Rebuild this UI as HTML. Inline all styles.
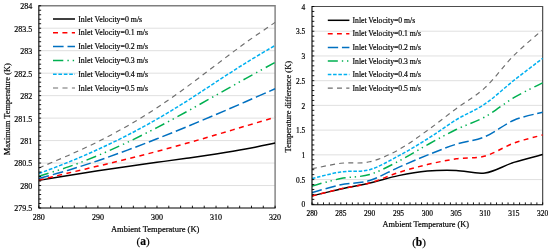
<!DOCTYPE html>
<html><head><meta charset="utf-8"><title>Figure</title>
<style>
html,body{margin:0;padding:0;background:#fff;}
svg{display:block;}
text{font-family:"Liberation Serif",serif;fill:#000;stroke:#000;stroke-width:0.18px;}
.tka{font-size:8.0px;}
.tkb{font-size:7.4px;}
.xta{font-size:8.5px;}
.xtb{font-size:8.3px;}
.yta{font-size:8.3px;}
.ytb{font-size:8.35px;}
.lga{font-size:7.85px;}
.lgb{font-size:7.7px;}
.cap{font-size:11px;}
.capb{font-size:11.5px;font-weight:bold;}
</style></head>
<body>
<svg width="550" height="251" viewBox="0 0 550 251">
<rect width="550" height="251" fill="#fff"/>
<line x1="38.85" x2="275.10" y1="185.53" y2="185.53" stroke="#dcdcdc" stroke-width="0.9"/>
<line x1="38.85" x2="275.10" y1="163.06" y2="163.06" stroke="#dcdcdc" stroke-width="0.9"/>
<line x1="38.85" x2="275.10" y1="140.58" y2="140.58" stroke="#dcdcdc" stroke-width="0.9"/>
<line x1="38.85" x2="275.10" y1="118.11" y2="118.11" stroke="#dcdcdc" stroke-width="0.9"/>
<line x1="38.85" x2="275.10" y1="95.64" y2="95.64" stroke="#dcdcdc" stroke-width="0.9"/>
<line x1="38.85" x2="275.10" y1="73.17" y2="73.17" stroke="#dcdcdc" stroke-width="0.9"/>
<line x1="38.85" x2="275.10" y1="50.69" y2="50.69" stroke="#dcdcdc" stroke-width="0.9"/>
<line x1="38.85" x2="275.10" y1="28.22" y2="28.22" stroke="#dcdcdc" stroke-width="0.9"/>
<path d="M38.85,5.75 H275.10 V208.00" fill="none" stroke="#7f7f7f" stroke-width="1.4"/>
<clipPath id="clipa"><rect x="38.85" y="5.75" width="236.75000000000003" height="202.25"/></clipPath>
<g clip-path="url(#clipa)" fill="none" stroke-linecap="butt" stroke-linejoin="round">
<path d="M38.85,180.38 C43.77,179.56 58.54,177.03 68.38,175.43 C78.23,173.83 88.07,172.29 97.91,170.79 C107.76,169.30 117.60,167.87 127.44,166.46 C137.29,165.05 147.13,163.71 156.98,162.34 C166.82,160.97 176.66,159.65 186.51,158.24 C196.35,156.83 206.19,155.44 216.04,153.90 C225.88,152.35 235.73,150.78 245.57,148.96 C255.41,147.15 270.18,144.00 275.10,143.01" stroke="#000000" stroke-width="1.5"/>
<path d="M38.85,180.09 C43.77,178.91 58.54,175.36 68.38,173.03 C78.23,170.70 88.07,168.45 97.91,166.10 C107.76,163.76 117.60,161.41 127.44,158.96 C137.29,156.51 147.13,154.00 156.98,151.40 C166.82,148.80 176.66,146.10 186.51,143.34 C196.35,140.58 206.19,137.71 216.04,134.83 C225.88,131.94 235.73,128.96 245.57,126.04 C255.41,123.11 270.18,118.73 275.10,117.26" stroke="#ff0000" stroke-width="1.5" stroke-dasharray="5.00 4.40"/>
<path d="M38.85,178.46 C43.77,177.08 58.54,173.16 68.38,170.19 C78.23,167.22 88.07,164.01 97.91,160.67 C107.76,157.32 117.60,153.78 127.44,150.13 C137.29,146.49 147.13,142.68 156.98,138.80 C166.82,134.92 176.66,130.92 186.51,126.86 C196.35,122.80 206.19,118.64 216.04,114.45 C225.88,110.27 235.73,106.00 245.57,101.72 C255.41,97.44 270.18,90.92 275.10,88.76" stroke="#0070c0" stroke-width="1.5" stroke-dasharray="10.60 3.90"/>
<path d="M38.85,176.19 C43.77,174.64 58.54,170.31 68.38,166.86 C78.23,163.41 88.07,159.58 97.91,155.49 C107.76,151.40 117.60,146.95 127.44,142.30 C137.29,137.65 147.13,132.68 156.98,127.59 C166.82,122.49 176.66,117.14 186.51,111.74 C196.35,106.35 206.19,100.76 216.04,95.23 C225.88,89.70 235.73,84.05 245.57,78.58 C255.41,73.11 270.18,65.10 275.10,62.41" stroke="#00b050" stroke-width="1.5" stroke-dasharray="10.30 4.10 1.40 3.90 1.40 4.10"/>
<path d="M38.85,173.57 C43.77,171.68 58.54,166.24 68.38,162.21 C78.23,158.19 88.07,153.94 97.91,149.44 C107.76,144.93 117.60,140.24 127.44,135.19 C137.29,130.15 147.13,124.80 156.98,119.15 C166.82,113.50 176.66,107.48 186.51,101.29 C196.35,95.09 206.19,88.36 216.04,81.99 C225.88,75.62 235.73,69.15 245.57,63.06 C255.41,56.96 270.18,48.35 275.10,45.41" stroke="#00b0f0" stroke-width="1.5" stroke-dasharray="3.65 1.75"/>
<path d="M38.85,167.91 C43.77,165.83 58.54,159.78 68.38,155.41 C78.23,151.04 88.07,146.62 97.91,141.70 C107.76,136.78 117.60,131.56 127.44,125.90 C137.29,120.24 147.13,114.22 156.98,107.75 C166.82,101.28 176.66,94.23 186.51,87.08 C196.35,79.94 206.19,72.28 216.04,64.89 C225.88,57.50 235.73,49.84 245.57,42.76 C255.41,35.67 270.18,25.79 275.10,22.40" stroke="#6e6e6e" stroke-width="1.15" stroke-dasharray="5.10 4.35"/>
</g>
<path d="M38.85,5.25 V208.00 H275.60" fill="none" stroke="#000" stroke-width="1.1"/>
<path d="M38.85,208.00 h2.3 M38.85,203.51 h2.3 M38.85,199.01 h2.3 M38.85,194.52 h2.3 M38.85,190.02 h2.3 M38.85,185.53 h2.3 M38.85,181.03 h2.3 M38.85,176.54 h2.3 M38.85,172.04 h2.3 M38.85,167.55 h2.3 M38.85,163.06 h2.3 M38.85,158.56 h2.3 M38.85,154.07 h2.3 M38.85,149.57 h2.3 M38.85,145.08 h2.3 M38.85,140.58 h2.3 M38.85,136.09 h2.3 M38.85,131.59 h2.3 M38.85,127.10 h2.3 M38.85,122.61 h2.3 M38.85,118.11 h2.3 M38.85,113.62 h2.3 M38.85,109.12 h2.3 M38.85,104.63 h2.3 M38.85,100.13 h2.3 M38.85,95.64 h2.3 M38.85,91.14 h2.3 M38.85,86.65 h2.3 M38.85,82.16 h2.3 M38.85,77.66 h2.3 M38.85,73.17 h2.3 M38.85,68.67 h2.3 M38.85,64.18 h2.3 M38.85,59.68 h2.3 M38.85,55.19 h2.3 M38.85,50.69 h2.3 M38.85,46.20 h2.3 M38.85,41.71 h2.3 M38.85,37.21 h2.3 M38.85,32.72 h2.3 M38.85,28.22 h2.3 M38.85,23.73 h2.3 M38.85,19.23 h2.3 M38.85,14.74 h2.3 M38.85,10.24 h2.3 M38.85,5.75 h2.3 M38.85,208.00 v-2.3 M50.66,208.00 v-2.3 M62.48,208.00 v-2.3 M74.29,208.00 v-2.3 M86.10,208.00 v-2.3 M97.91,208.00 v-2.3 M109.72,208.00 v-2.3 M121.54,208.00 v-2.3 M133.35,208.00 v-2.3 M145.16,208.00 v-2.3 M156.98,208.00 v-2.3 M168.79,208.00 v-2.3 M180.60,208.00 v-2.3 M192.41,208.00 v-2.3 M204.22,208.00 v-2.3 M216.04,208.00 v-2.3 M227.85,208.00 v-2.3 M239.66,208.00 v-2.3 M251.48,208.00 v-2.3 M263.29,208.00 v-2.3 M275.10,208.00 v-2.3" stroke="#000" stroke-width="0.9" fill="none"/>
<text x="32.35" y="211.40" text-anchor="end" class="tka">279.5</text>
<text x="32.35" y="188.93" text-anchor="end" class="tka">280</text>
<text x="32.35" y="166.46" text-anchor="end" class="tka">280.5</text>
<text x="32.35" y="143.98" text-anchor="end" class="tka">281</text>
<text x="32.35" y="121.51" text-anchor="end" class="tka">281.5</text>
<text x="32.35" y="99.04" text-anchor="end" class="tka">282</text>
<text x="32.35" y="76.57" text-anchor="end" class="tka">282.5</text>
<text x="32.35" y="54.09" text-anchor="end" class="tka">283</text>
<text x="32.35" y="31.62" text-anchor="end" class="tka">283.5</text>
<text x="32.35" y="9.15" text-anchor="end" class="tka">284</text>
<text x="38.85" y="219.90" text-anchor="middle" class="tka">280</text>
<text x="97.91" y="219.90" text-anchor="middle" class="tka">290</text>
<text x="156.98" y="219.90" text-anchor="middle" class="tka">300</text>
<text x="216.04" y="219.90" text-anchor="middle" class="tka">310</text>
<text x="275.10" y="219.90" text-anchor="middle" class="tka">320</text>
<text x="155.20" y="231.60" text-anchor="middle" class="xta">Ambient Temperature (K)</text>
<text transform="translate(9.5,109.30) rotate(-90)" text-anchor="middle" class="yta">Maximum Temperature (K)</text>
<text x="143.00" y="245.20" text-anchor="middle" class="cap">(<tspan class="capb">a</tspan>)</text>
<line x1="53.0" x2="75.0" y1="19.00" y2="19.00" stroke="#000000" stroke-width="1.5"/>
<text x="78.2" y="21.60" class="lga">Inlet Velocity=0 m/s</text>
<line x1="53.0" x2="75.0" y1="32.80" y2="32.80" stroke="#ff0000" stroke-width="1.5" stroke-dasharray="5.00 4.40"/>
<text x="78.2" y="35.40" class="lga">Inlet Velocity=0.1 m/s</text>
<line x1="53.0" x2="75.0" y1="46.60" y2="46.60" stroke="#0070c0" stroke-width="1.5" stroke-dasharray="10.60 3.90"/>
<text x="78.2" y="49.20" class="lga">Inlet Velocity=0.2 m/s</text>
<line x1="53.0" x2="75.0" y1="60.40" y2="60.40" stroke="#00b050" stroke-width="1.5" stroke-dasharray="10.30 4.10 1.40 3.90 1.40 4.10"/>
<text x="78.2" y="63.00" class="lga">Inlet Velocity=0.3 m/s</text>
<line x1="53.0" x2="75.0" y1="74.20" y2="74.20" stroke="#00b0f0" stroke-width="1.5" stroke-dasharray="3.65 1.75"/>
<text x="78.2" y="76.80" class="lga">Inlet Velocity=0.4 m/s</text>
<line x1="53.0" x2="75.0" y1="88.00" y2="88.00" stroke="#6e6e6e" stroke-width="1.15" stroke-dasharray="5.10 4.35"/>
<text x="78.2" y="90.60" class="lga">Inlet Velocity=0.5 m/s</text>
<line x1="312.00" x2="542.65" y1="179.58" y2="179.58" stroke="#dcdcdc" stroke-width="0.9"/>
<line x1="312.00" x2="542.65" y1="154.85" y2="154.85" stroke="#dcdcdc" stroke-width="0.9"/>
<line x1="312.00" x2="542.65" y1="130.12" y2="130.12" stroke="#dcdcdc" stroke-width="0.9"/>
<line x1="312.00" x2="542.65" y1="105.40" y2="105.40" stroke="#dcdcdc" stroke-width="0.9"/>
<line x1="312.00" x2="542.65" y1="80.68" y2="80.68" stroke="#dcdcdc" stroke-width="0.9"/>
<line x1="312.00" x2="542.65" y1="55.95" y2="55.95" stroke="#dcdcdc" stroke-width="0.9"/>
<line x1="312.00" x2="542.65" y1="31.22" y2="31.22" stroke="#dcdcdc" stroke-width="0.9"/>
<path d="M312.00,6.50 H542.65 V204.30" fill="none" stroke="#4d4d4d" stroke-width="1.2"/>
<clipPath id="clipb"><rect x="312.0" y="6.5" width="231.14999999999998" height="197.8"/></clipPath>
<g clip-path="url(#clipb)" fill="none" stroke-linecap="butt" stroke-linejoin="round">
<path d="M312.00,195.89 C316.81,194.74 331.22,191.11 340.83,188.95 C350.44,186.80 360.05,185.19 369.66,182.97 C379.27,180.74 388.88,177.59 398.49,175.61 C408.10,173.63 417.71,171.95 427.32,171.09 C436.94,170.23 446.55,170.10 456.16,170.43 C465.77,170.75 475.38,174.37 484.99,173.02 C494.60,171.68 504.21,165.43 513.82,162.36 C523.43,159.28 537.84,155.86 542.65,154.57" stroke="#000000" stroke-width="1.5"/>
<path d="M312.00,196.08 C316.81,194.88 331.22,191.04 340.83,188.87 C350.44,186.70 360.05,185.78 369.66,183.07 C379.27,180.35 388.88,175.64 398.49,172.56 C408.10,169.47 417.71,166.85 427.32,164.57 C436.94,162.28 446.55,160.26 456.16,158.84 C465.77,157.42 475.38,158.68 484.99,156.06 C494.60,153.44 504.21,146.65 513.82,143.13 C523.43,139.61 537.84,136.32 542.65,134.96" stroke="#ff0000" stroke-width="1.5" stroke-dasharray="4.88 4.29"/>
<path d="M312.00,192.53 C316.81,191.24 331.22,186.80 340.83,184.79 C350.44,182.78 360.05,183.39 369.66,180.48 C379.27,177.58 388.88,171.57 398.49,167.35 C408.10,163.13 417.71,159.02 427.32,155.17 C436.94,151.32 446.55,147.32 456.16,144.23 C465.77,141.15 475.38,140.68 484.99,136.68 C494.60,132.68 504.21,124.32 513.82,120.25 C523.43,116.18 537.84,113.60 542.65,112.27" stroke="#0070c0" stroke-width="1.5" stroke-dasharray="10.33 3.80"/>
<path d="M312.00,185.93 C316.81,184.70 331.22,180.47 340.83,178.56 C350.44,176.65 360.05,177.34 369.66,174.46 C379.27,171.58 388.88,166.22 398.49,161.28 C408.10,156.34 417.71,150.12 427.32,144.82 C436.94,139.53 446.55,134.17 456.16,129.51 C465.77,124.86 475.38,122.22 484.99,116.91 C494.60,111.61 504.21,103.37 513.82,97.68 C523.43,92.00 537.84,85.29 542.65,82.81" stroke="#00b050" stroke-width="1.5" stroke-dasharray="10.04 4.00 1.36 3.80 1.36 4.00"/>
<path d="M312.00,178.52 C316.81,177.43 331.22,173.45 340.83,171.98 C350.44,170.50 360.05,172.34 369.66,169.66 C379.27,166.99 388.88,161.04 398.49,155.93 C408.10,150.83 417.71,145.03 427.32,139.01 C436.94,132.99 446.55,125.67 456.16,119.82 C465.77,113.98 475.38,110.51 484.99,103.95 C494.60,97.38 504.21,88.04 513.82,80.44 C523.43,72.84 537.84,62.03 542.65,58.35" stroke="#00b0f0" stroke-width="1.5" stroke-dasharray="3.56 1.71"/>
<path d="M312.00,168.83 C316.81,167.90 331.22,164.46 340.83,163.29 C350.44,162.12 360.05,164.05 369.66,161.80 C379.27,159.56 388.88,155.03 398.49,149.81 C408.10,144.59 417.71,137.34 427.32,130.48 C436.94,123.63 446.55,115.82 456.16,108.69 C465.77,101.56 475.38,96.57 484.99,87.70 C494.60,78.83 504.21,65.13 513.82,55.48 C523.43,45.82 537.84,34.06 542.65,29.78" stroke="#6e6e6e" stroke-width="1.15" stroke-dasharray="4.97 4.24"/>
</g>
<path d="M312.00,6.00 V204.70 H543.15" fill="none" stroke="#000" stroke-width="1.1"/>
<path d="M312.00,204.30 h2.3 M312.00,199.36 h2.3 M312.00,194.41 h2.3 M312.00,189.47 h2.3 M312.00,184.52 h2.3 M312.00,179.58 h2.3 M312.00,174.63 h2.3 M312.00,169.69 h2.3 M312.00,164.74 h2.3 M312.00,159.80 h2.3 M312.00,154.85 h2.3 M312.00,149.91 h2.3 M312.00,144.96 h2.3 M312.00,140.01 h2.3 M312.00,135.07 h2.3 M312.00,130.12 h2.3 M312.00,125.18 h2.3 M312.00,120.23 h2.3 M312.00,115.29 h2.3 M312.00,110.34 h2.3 M312.00,105.40 h2.3 M312.00,100.45 h2.3 M312.00,95.51 h2.3 M312.00,90.56 h2.3 M312.00,85.62 h2.3 M312.00,80.68 h2.3 M312.00,75.73 h2.3 M312.00,70.78 h2.3 M312.00,65.84 h2.3 M312.00,60.89 h2.3 M312.00,55.95 h2.3 M312.00,51.00 h2.3 M312.00,46.06 h2.3 M312.00,41.11 h2.3 M312.00,36.17 h2.3 M312.00,31.22 h2.3 M312.00,26.28 h2.3 M312.00,21.33 h2.3 M312.00,16.39 h2.3 M312.00,11.44 h2.3 M312.00,6.50 h2.3 M312.00,204.70 v-2.3 M317.77,204.70 v-2.3 M323.53,204.70 v-2.3 M329.30,204.70 v-2.3 M335.06,204.70 v-2.3 M340.83,204.70 v-2.3 M346.60,204.70 v-2.3 M352.36,204.70 v-2.3 M358.13,204.70 v-2.3 M363.90,204.70 v-2.3 M369.66,204.70 v-2.3 M375.43,204.70 v-2.3 M381.19,204.70 v-2.3 M386.96,204.70 v-2.3 M392.73,204.70 v-2.3 M398.49,204.70 v-2.3 M404.26,204.70 v-2.3 M410.03,204.70 v-2.3 M415.79,204.70 v-2.3 M421.56,204.70 v-2.3 M427.32,204.70 v-2.3 M433.09,204.70 v-2.3 M438.86,204.70 v-2.3 M444.62,204.70 v-2.3 M450.39,204.70 v-2.3 M456.16,204.70 v-2.3 M461.92,204.70 v-2.3 M467.69,204.70 v-2.3 M473.45,204.70 v-2.3 M479.22,204.70 v-2.3 M484.99,204.70 v-2.3 M490.75,204.70 v-2.3 M496.52,204.70 v-2.3 M502.29,204.70 v-2.3 M508.05,204.70 v-2.3 M513.82,204.70 v-2.3 M519.59,204.70 v-2.3 M525.35,204.70 v-2.3 M531.12,204.70 v-2.3 M536.88,204.70 v-2.3 M542.65,204.70 v-2.3" stroke="#000" stroke-width="0.9" fill="none"/>
<text x="305.30" y="207.40" text-anchor="end" class="tkb">0</text>
<text x="305.30" y="182.68" text-anchor="end" class="tkb">0.5</text>
<text x="305.30" y="157.95" text-anchor="end" class="tkb">1</text>
<text x="305.30" y="133.22" text-anchor="end" class="tkb">1.5</text>
<text x="305.30" y="108.50" text-anchor="end" class="tkb">2</text>
<text x="305.30" y="83.78" text-anchor="end" class="tkb">2.5</text>
<text x="305.30" y="59.05" text-anchor="end" class="tkb">3</text>
<text x="305.30" y="34.32" text-anchor="end" class="tkb">3.5</text>
<text x="305.30" y="9.60" text-anchor="end" class="tkb">4</text>
<text x="312.00" y="216.40" text-anchor="middle" class="tkb">280</text>
<text x="340.83" y="216.40" text-anchor="middle" class="tkb">285</text>
<text x="369.66" y="216.40" text-anchor="middle" class="tkb">290</text>
<text x="398.49" y="216.40" text-anchor="middle" class="tkb">295</text>
<text x="427.32" y="216.40" text-anchor="middle" class="tkb">300</text>
<text x="456.16" y="216.40" text-anchor="middle" class="tkb">305</text>
<text x="484.99" y="216.40" text-anchor="middle" class="tkb">310</text>
<text x="513.82" y="216.40" text-anchor="middle" class="tkb">315</text>
<text x="542.65" y="216.40" text-anchor="middle" class="tkb">320</text>
<text x="425.80" y="227.40" text-anchor="middle" class="xtb">Ambient Temperature (K)</text>
<text transform="translate(291.2,106.80) rotate(-90)" text-anchor="middle" class="ytb">Temperature difference (K)</text>
<text x="419.00" y="246.00" text-anchor="middle" class="cap">(<tspan class="capb">b</tspan>)</text>
<line x1="327.8" x2="349.4" y1="20.30" y2="20.30" stroke="#000000" stroke-width="1.5"/>
<text x="352.5" y="22.90" class="lgb">Inlet Velocity=0 m/s</text>
<line x1="327.8" x2="349.4" y1="33.85" y2="33.85" stroke="#ff0000" stroke-width="1.5" stroke-dasharray="4.88 4.29"/>
<text x="352.5" y="36.45" class="lgb">Inlet Velocity=0.1 m/s</text>
<line x1="327.8" x2="349.4" y1="47.40" y2="47.40" stroke="#0070c0" stroke-width="1.5" stroke-dasharray="10.33 3.80"/>
<text x="352.5" y="50.00" class="lgb">Inlet Velocity=0.2 m/s</text>
<line x1="327.8" x2="349.4" y1="60.95" y2="60.95" stroke="#00b050" stroke-width="1.5" stroke-dasharray="10.04 4.00 1.36 3.80 1.36 4.00"/>
<text x="352.5" y="63.55" class="lgb">Inlet Velocity=0.3 m/s</text>
<line x1="327.8" x2="349.4" y1="74.50" y2="74.50" stroke="#00b0f0" stroke-width="1.5" stroke-dasharray="3.56 1.71"/>
<text x="352.5" y="77.10" class="lgb">Inlet Velocity=0.4 m/s</text>
<line x1="327.8" x2="349.4" y1="88.05" y2="88.05" stroke="#6e6e6e" stroke-width="1.15" stroke-dasharray="4.97 4.24"/>
<text x="352.5" y="90.65" class="lgb">Inlet Velocity=0.5 m/s</text>
</svg>
</body></html>
